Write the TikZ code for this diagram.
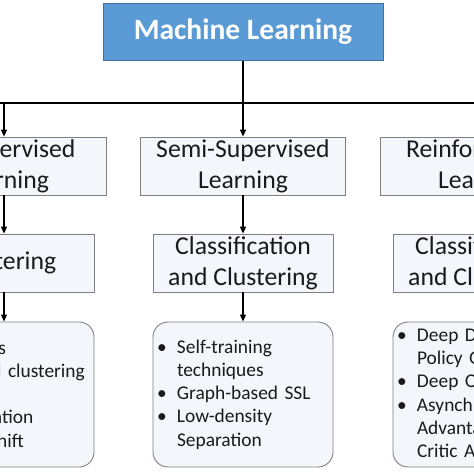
\documentclass[tikz,border=0pt]{standalone}
\usepackage{fontspec}
\setmainfont{Carlito}
\usetikzlibrary{arrows.meta}
\definecolor{mlblue}{HTML}{5B9BD5}
\definecolor{mledge}{HTML}{41719C}
\definecolor{tint}{HTML}{F3F6FB}
\definecolor{boxedge}{HTML}{7F7F7F}
\definecolor{ink}{HTML}{1A1A1A}
\newcommand\bitem[1]{\makebox[18pt]{\textbullet}\hspace*{6pt}#1}
\newcommand\bcont[1]{\hspace*{24pt}#1}
\begin{document}
\begin{tikzpicture}[x=1pt,y=-1pt,
  titlebox/.style={draw=mledge, line width=1pt, fill=mlblue, text=white,
    font=\fontsize{29.5}{35}\selectfont\bfseries, minimum width=280pt,
    minimum height=57pt, inner sep=0pt},
  catbox/.style={draw=boxedge, line width=0.8pt, fill=tint,
    text=ink, font=\fontsize{25.7}{30.8}\selectfont, minimum width=205pt,
    minimum height=58pt, inner sep=0pt, align=center},
  subbox/.style={catbox, minimum width=180pt},
  listbox/.style={draw=boxedge, line width=0.9pt, rounded corners=15pt,
    fill=tint, text=ink,
    font=\fontsize{19.4}{23.3}\selectfont, text width=180pt,
    minimum height=145pt, inner xsep=0pt, inner ysep=0pt, align=left},
  arr/.style={line width=1.2pt, -{Triangle[length=7pt,width=6pt]}},
  link/.style={line width=1.2pt}]
\useasboundingbox (0,0) rectangle (474,474);
\clip (0,0) rectangle (474,474);
\fill[white] (0,0) rectangle (474,474);

\node[titlebox] (ml) at (243,31.5) {Machine Learning};
\coordinate (hl) at (-20,103);
\coordinate (hr) at (494,103);

\node[catbox] (u2) at (4,166) {Unsupervised\\Learning};
\node[catbox] (s2) at (243,166) {Semi-Supervised\\Learning};
\node[catbox] (r2) at (483,166) {Reinforcement\\Learning};

\node[subbox] (u3) at (4,263) {Clustering};
\node[subbox] (s3) at (243,263) {Classification\\and Clustering};
\node[subbox] (r3) at (483,263) {Classification\\and Clustering};

\node[listbox] (u4) at (4,394.5) {\bitem{K-means}\\\bitem{Spectral clustering}\\\bitem{Affinity}\\\bcont{Propagation}\\\bitem{Mean-shift}};
\node[listbox] (s4) at (243,394.5) {\bitem{Self-training}\\\bcont{techniques}\\\bitem{Graph-based SSL}\\\bitem{Low-density}\\\bcont{Separation}};
\node[listbox] (r4) at (483,394.5) {\bitem{Deep Deterministic}\\\bcont{Policy Gradient}\\\bitem{Deep Q-Network}\\\bitem{Asynchronous}\\\bcont{Advantage Actor}\\\bcont{Critic Algorithm}};

\draw[link] (ml.south) -- (ml.south |- hl);
\draw[link] (hl) -- (hr);
\foreach \c in {u,s,r}{
  \draw[arr] (\c2 |- hl) -- (\c2.north);
  \draw[arr] (\c2.south) -- (\c3.north);
  \draw[arr] (\c3.south) -- (\c4.north);
}
\end{tikzpicture}
\end{document}
